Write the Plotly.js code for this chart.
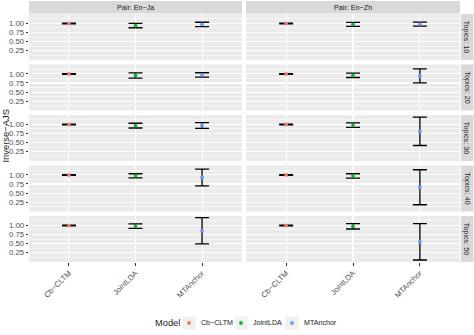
<!DOCTYPE html>
<html>
<head>
<meta charset="utf-8">
<script src="https://cdn.plot.ly/plotly-3.0.1.min.js"></script>
<style>html,body{margin:0;padding:0;background:#fff}#chart{width:474px;height:335px}</style>
</head>
<body>
<div id="chart"></div>
<script>
// ---- data ----
const models = ['Cb−CLTM', 'JointLDA', 'MTAnchor'];
const pairs = ['Pair: En−Ja', 'Pair: En−Zh'];
const topics = ['Topics: 10', 'Topics: 20', 'Topics: 30', 'Topics: 40', 'Topics: 50'];
const yTicks = [0.25, 0.5, 0.75, 1.0];
const yTickText = ['0.25', '0.50', '0.75', '1.00'];

// mean inverse-AJS per topic count (10..50) and half-width of interval
const cbEnJaMean = [0.997, 0.997, 0.997, 0.997, 0.997];
const cbEnJaErr  = [0.010, 0.008, 0.008, 0.008, 0.010];
const cbEnZhMean = [0.997, 0.997, 0.997, 0.997, 0.997];
const cbEnZhErr  = [0.010, 0.008, 0.008, 0.008, 0.010];
const jlEnJaMean = [0.940, 0.955, 0.965, 0.975, 0.980];
const jlEnJaErr  = [0.060, 0.070, 0.065, 0.055, 0.060];
const jlEnZhMean = [0.970, 0.960, 0.980, 0.970, 0.975];
const jlEnZhErr  = [0.055, 0.060, 0.060, 0.060, 0.075];
const mtEnJaMean = [0.970, 0.970, 0.970, 0.930, 0.850];
const mtEnJaErr  = [0.060, 0.060, 0.080, 0.230, 0.360];
const mtEnZhMean = [0.980, 0.945, 0.810, 0.660, 0.550];
const mtEnZhErr  = [0.055, 0.190, 0.390, 0.480, 0.500];

const colors = ['#F8766D', '#00BA38', '#619CFF'];
const means = [[cbEnJaMean, cbEnZhMean], [jlEnJaMean, jlEnZhMean], [mtEnJaMean, mtEnZhMean]];
const errs  = [[cbEnJaErr, cbEnZhErr], [jlEnJaErr, jlEnZhErr], [mtEnJaErr, mtEnZhErr]];

// ---- layout geometry (pixels) ----
const W = 474, H = 335;
const colX = [[29, 242], [246, 460]];
const rowTop0 = 14, rowPitch = 50.5, rowH = 46;
const px2x = p => p / W;
const px2y = p => 1 - p / H;
const FONT = 'Liberation Sans, Arial, sans-serif';
const TICKFONT = {size: 7.7, color: '#4D4D4D'};

const traces = [];
const layout = {
  width: W, height: H,
  margin: {l: 0, r: 0, t: 0, b: 0},
  paper_bgcolor: '#FFFFFF',
  plot_bgcolor: '#EBEBEB',
  font: {family: FONT, size: 7.5, color: '#4D4D4D'},
  showlegend: false,
  shapes: [], annotations: []
};

for (let r = 0; r < topics.length; r++) {
  const top = rowTop0 + r * rowPitch;
  const bot = top + rowH;
  for (let c = 0; c < pairs.length; c++) {
    const k = r * 2 + c + 1;
    const xa = 'xaxis' + (k === 1 ? '' : k);
    const ya = 'yaxis' + (k === 1 ? '' : k);
    const xr = 'x' + (k === 1 ? '' : k);
    const yr = 'y' + (k === 1 ? '' : k);
    const last = r === topics.length - 1;
    layout[xa] = {
      domain: [px2x(colX[c][0]), px2x(colX[c][1])],
      anchor: yr, type: 'category', categoryarray: models, categoryorder: 'array',
      range: [-0.6, 2.6], showgrid: true, gridcolor: '#FFFFFF', gridwidth: 1.1,
      zeroline: false, showline: false, fixedrange: true,
      showticklabels: last, ticks: last ? 'outside' : '', ticklen: 2.5, tickwidth: 1, tickcolor: '#333333',
      tickangle: -45, tickfont: TICKFONT
    };
    layout[ya] = {
      domain: [px2y(bot), px2y(top)], anchor: xr,
      range: [-0.005, 1.257], tickvals: yTicks, ticktext: yTickText,
      showgrid: true, gridcolor: '#FFFFFF', gridwidth: 1.1,
      minor: {tickvals: [0.125, 0.375, 0.625, 0.875, 1.125], showgrid: true, gridcolor: '#FFFFFF', gridwidth: 0.5, ticks: ''},
      zeroline: false, showline: false, fixedrange: true,
      showticklabels: c === 0, ticks: c === 0 ? 'outside' : '', ticklen: 2.5, tickwidth: 1, tickcolor: '#333333',
      tickfont: TICKFONT
    };
    for (let m = 0; m < models.length; m++) {
      traces.push({
        type: 'scatter', mode: 'markers',
        x: [models[m]], y: [means[m][c][r]],
        error_y: {type: 'data', array: [errs[m][c][r]], visible: true, color: '#000000', thickness: 1.3, width: 7},
        marker: {color: colors[m], size: 3.8},
        name: models[m], showlegend: false,
        xaxis: xr, yaxis: yr, cliponaxis: false
      });
    }
    // right strip
    if (c === pairs.length - 1) {
      layout.shapes.push({type: 'rect', xref: 'paper', yref: 'paper', layer: 'below',
        x0: px2x(461), x1: px2x(473.5), y0: px2y(bot), y1: px2y(top),
        fillcolor: '#D9D9D9', line: {width: 0}});
      layout.annotations.push({xref: 'paper', yref: 'paper', x: px2x(467.2), y: px2y((top + bot) / 2),
        text: topics[r], showarrow: false, textangle: 90, font: {size: 7.2, color: '#1A1A1A'},
        xanchor: 'center', yanchor: 'middle'});
    }
  }
}
// top strips
for (let c = 0; c < pairs.length; c++) {
  layout.shapes.push({type: 'rect', xref: 'paper', yref: 'paper', layer: 'below',
    x0: px2x(colX[c][0]), x1: px2x(colX[c][1]), y0: px2y(13.5), y1: px2y(1),
    fillcolor: '#D9D9D9', line: {width: 0}});
  layout.annotations.push({xref: 'paper', yref: 'paper', x: px2x((colX[c][0] + colX[c][1]) / 2), y: px2y(7.5),
    text: pairs[c], showarrow: false, font: {size: 7.2, color: '#1A1A1A'}, xanchor: 'center', yanchor: 'middle'});
}
// y title
layout.annotations.push({xref: 'paper', yref: 'paper', x: px2x(4.5), y: px2y(136),
  text: 'Inverse−AJS', showarrow: false, textangle: -90, font: {size: 9.4, color: '#1A1A1A'},
  xanchor: 'center', yanchor: 'middle'});

// legend (ggplot style, bottom)
const legY = 323;
const keyX = [189, 241, 292];
layout.annotations.push({xref: 'paper', yref: 'paper', x: px2x(153), y: px2y(legY),
  text: 'Model', showarrow: false, font: {size: 9.3, color: '#1A1A1A'}, xanchor: 'left', yanchor: 'middle'});
for (let m = 0; m < models.length; m++) {
  layout.shapes.push({type: 'rect', xref: 'paper', yref: 'paper',
    x0: px2x(keyX[m] - 6.5), x1: px2x(keyX[m] + 6.5), y0: px2y(legY + 6.5), y1: px2y(legY - 6.5),
    fillcolor: '#F0F0F0', line: {width: 0}});
  layout.shapes.push({type: 'circle', xref: 'paper', yref: 'paper',
    x0: px2x(keyX[m] - 1.9), x1: px2x(keyX[m] + 1.9), y0: px2y(legY + 1.9), y1: px2y(legY - 1.9),
    fillcolor: colors[m], line: {width: 0}});
  layout.annotations.push({xref: 'paper', yref: 'paper', x: px2x(keyX[m] + 10), y: px2y(legY),
    text: models[m], showarrow: false, font: {size: 7.1, color: '#1A1A1A'}, xanchor: 'left', yanchor: 'middle'});
}

Plotly.newPlot('chart', traces, layout, {displayModeBar: false, staticPlot: true});
</script>
</body>
</html>
